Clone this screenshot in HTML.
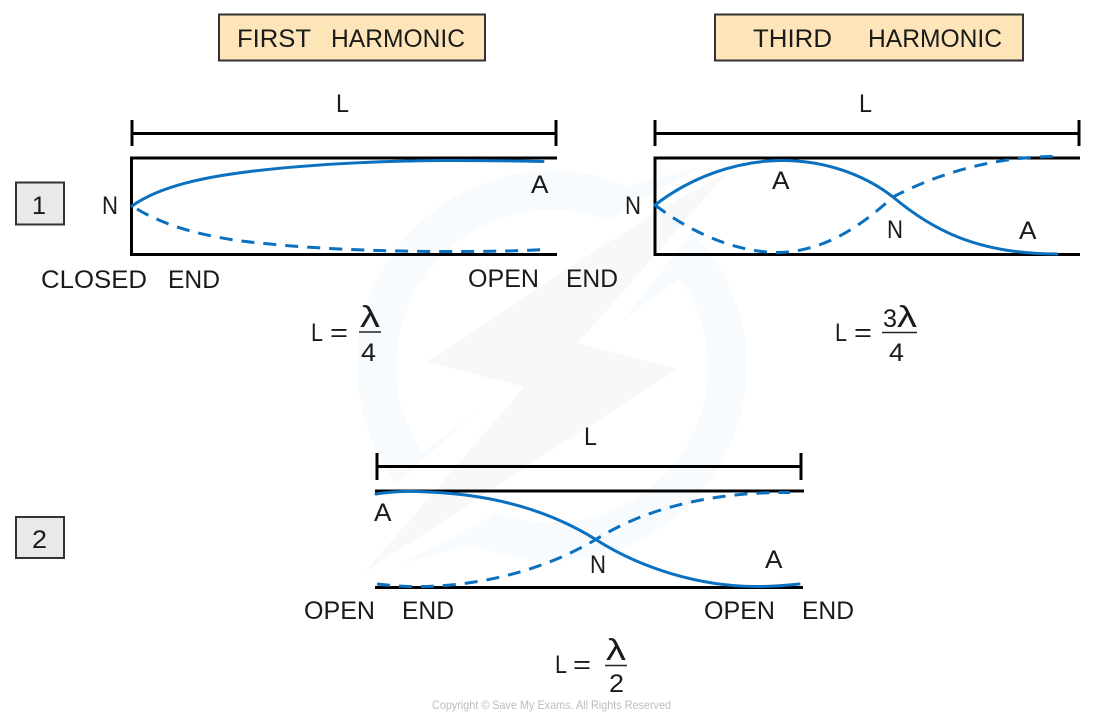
<!DOCTYPE html>
<html>
<head>
<meta charset="utf-8">
<style>
html,body{margin:0;padding:0;background:#fff}
svg{display:block}
text{font-family:"Liberation Sans","DejaVu Sans",sans-serif;fill:#1a1a1a;font-size:25px}
.s{fill:none;stroke:#0a70c0;stroke-width:3;stroke-linecap:round}
.d{fill:none;stroke:#0a70c0;stroke-width:3;stroke-dasharray:13 9}
.k{fill:none;stroke:#000;stroke-width:3}
.g{font-size:31px}
</style>
</head>
<body>
<svg width="1100" height="720" viewBox="0 0 1100 720" xmlns="http://www.w3.org/2000/svg">
<!-- watermark -->
<path d="M700 167L627 186A195 195 0 0 0 357 366A195 195 0 0 0 397 484L480 408L423 453A156 156 0 0 1 396 366A156 156 0 0 1 607 220Z" fill="#f7fbfe"/>
<path d="M623 320L680 278A156 156 0 0 1 708 366A156 156 0 0 1 498 513L403 563L473 544A195 195 0 0 0 747 366A195 195 0 0 0 692 232Z" fill="#f7fbfe"/>
<polygon points="427,362 650,215 727,173 578,343 677,369 365,572 524,387" fill="#f8f8f8"/>

<!-- headers -->
<rect x="219" y="14.500" width="266" height="46" fill="#fee5b9" stroke="#333" stroke-width="2"/>
<rect x="715" y="14.500" width="308" height="46" fill="#fee5b9" stroke="#333" stroke-width="2"/>
<text x="237" y="47" textLength="74" lengthAdjust="spacingAndGlyphs">FIRST</text>
<text x="331" y="47" textLength="134" lengthAdjust="spacingAndGlyphs">HARMONIC</text>
<text x="753" y="47" textLength="79" lengthAdjust="spacingAndGlyphs">THIRD</text>
<text x="868" y="47" textLength="134" lengthAdjust="spacingAndGlyphs">HARMONIC</text>

<!-- step boxes -->
<rect x="16" y="182.500" width="48" height="42" fill="#e9e9e9" stroke="#333" stroke-width="2"/>
<rect x="16" y="517" width="48" height="41" fill="#e9e9e9" stroke="#333" stroke-width="2"/>
<text x="32" y="214" textLength="14" lengthAdjust="spacingAndGlyphs">1</text>
<text x="32" y="548" textLength="15" lengthAdjust="spacingAndGlyphs">2</text>

<!-- dimension lines -->
<path class="k" d="M132 133.500H556M132 120V146M556 120V146"/>
<path class="k" d="M655 133.500H1079M655 120V146M1079 120V146"/>
<path class="k" d="M377 466.500H801M377 453V480M801 453V480"/>
<text x="336" y="112" textLength="13" lengthAdjust="spacingAndGlyphs">L</text>
<text x="859" y="112" textLength="13" lengthAdjust="spacingAndGlyphs">L</text>
<text x="584" y="445" textLength="13" lengthAdjust="spacingAndGlyphs">L</text>

<!-- tubes -->
<path class="k" d="M557 158H131.500V254.500H557"/>
<path class="k" d="M1080 158H655V254.500H1080"/>
<path class="k" d="M375 491H804M375 587.500H803"/>

<!-- waves 1 -->
<path class="s" d="M132 206C160 186 205 177 250 171.500C320 163 400 160.500 446 160.500C490 160.500 520 161 543 161.500"/>
<path class="d" d="M137 209C165 226 205 237 250 242C320 250 400 251.500 446 251.500C490 251.500 520 251 545 249.500"/>

<!-- waves 3 -->
<path class="s" d="M655 205C690 178 735 161 780 160.500C825 160 865 175 893 197C930 228 975 254 1057 254"/>
<path class="d" d="M655 205C690 232 735 252 777 252.500C825 252 862 225 893 197C935 175 990 157 1054 156.500"/>

<!-- waves 2 -->
<path class="s" d="M376 494C395 491 410 491 428 492C480 494 540 505 595 539C640 568 700 587 759 586.500C775 586.500 790 585 799 584"/>
<path class="d" d="M377 584C395 586 410 587 425 586.500C480 585 540 572 595 540C650 505 720 492 790 492.500"/>

<!-- labels 1 -->
<text x="102" y="214" textLength="16" lengthAdjust="spacingAndGlyphs">N</text>
<text x="531" y="193" textLength="17.500" lengthAdjust="spacingAndGlyphs">A</text>
<text x="41" y="288" textLength="106" lengthAdjust="spacingAndGlyphs">CLOSED</text>
<text x="168" y="288" textLength="52" lengthAdjust="spacingAndGlyphs">END</text>
<text x="468" y="287" textLength="71" lengthAdjust="spacingAndGlyphs">OPEN</text>
<text x="566" y="287" textLength="52" lengthAdjust="spacingAndGlyphs">END</text>

<!-- labels 3 -->
<text x="625" y="214" textLength="16" lengthAdjust="spacingAndGlyphs">N</text>
<text x="772" y="189" textLength="17.500" lengthAdjust="spacingAndGlyphs">A</text>
<text x="887" y="238" textLength="16" lengthAdjust="spacingAndGlyphs">N</text>
<text x="1019" y="239" textLength="17.500" lengthAdjust="spacingAndGlyphs">A</text>

<!-- labels 2 -->
<text x="374" y="521" textLength="17.500" lengthAdjust="spacingAndGlyphs">A</text>
<text x="590" y="573" textLength="16" lengthAdjust="spacingAndGlyphs">N</text>
<text x="765" y="568" textLength="17.500" lengthAdjust="spacingAndGlyphs">A</text>
<text x="304" y="619" textLength="71" lengthAdjust="spacingAndGlyphs">OPEN</text>
<text x="402" y="619" textLength="52" lengthAdjust="spacingAndGlyphs">END</text>
<text x="704" y="619" textLength="71" lengthAdjust="spacingAndGlyphs">OPEN</text>
<text x="802" y="619" textLength="52" lengthAdjust="spacingAndGlyphs">END</text>

<!-- formula 1 -->
<text x="311" y="341" textLength="12" lengthAdjust="spacingAndGlyphs">L</text>
<text x="330" y="341" textLength="18" lengthAdjust="spacingAndGlyphs">=</text>
<text class="g" x="360" y="327" textLength="20" lengthAdjust="spacingAndGlyphs">λ</text>
<path d="M359 332H381" stroke="#222" stroke-width="1.500"/>
<text x="361" y="361" textLength="15" lengthAdjust="spacingAndGlyphs">4</text>

<!-- formula 3 -->
<text x="835" y="341" textLength="12" lengthAdjust="spacingAndGlyphs">L</text>
<text x="854" y="341" textLength="18" lengthAdjust="spacingAndGlyphs">=</text>
<text x="883" y="327" textLength="14" lengthAdjust="spacingAndGlyphs">3</text>
<text class="g" x="897" y="327" textLength="20" lengthAdjust="spacingAndGlyphs">λ</text>
<path d="M882 332.500H917" stroke="#222" stroke-width="1.500"/>
<text x="889" y="361" textLength="15" lengthAdjust="spacingAndGlyphs">4</text>

<!-- formula 2 -->
<text x="555" y="673" textLength="12" lengthAdjust="spacingAndGlyphs">L</text>
<text x="573" y="673" textLength="18" lengthAdjust="spacingAndGlyphs">=</text>
<text class="g" x="606" y="660" textLength="20" lengthAdjust="spacingAndGlyphs">λ</text>
<path d="M605 665.500H627" stroke="#222" stroke-width="1.500"/>
<text x="609" y="692" textLength="15" lengthAdjust="spacingAndGlyphs">2</text>

<text x="432" y="709" textLength="239" lengthAdjust="spacingAndGlyphs" style="font-size:12px;fill:#bdbdbd">Copyright © Save My Exams. All Rights Reserved</text>
</svg>
</body>
</html>
